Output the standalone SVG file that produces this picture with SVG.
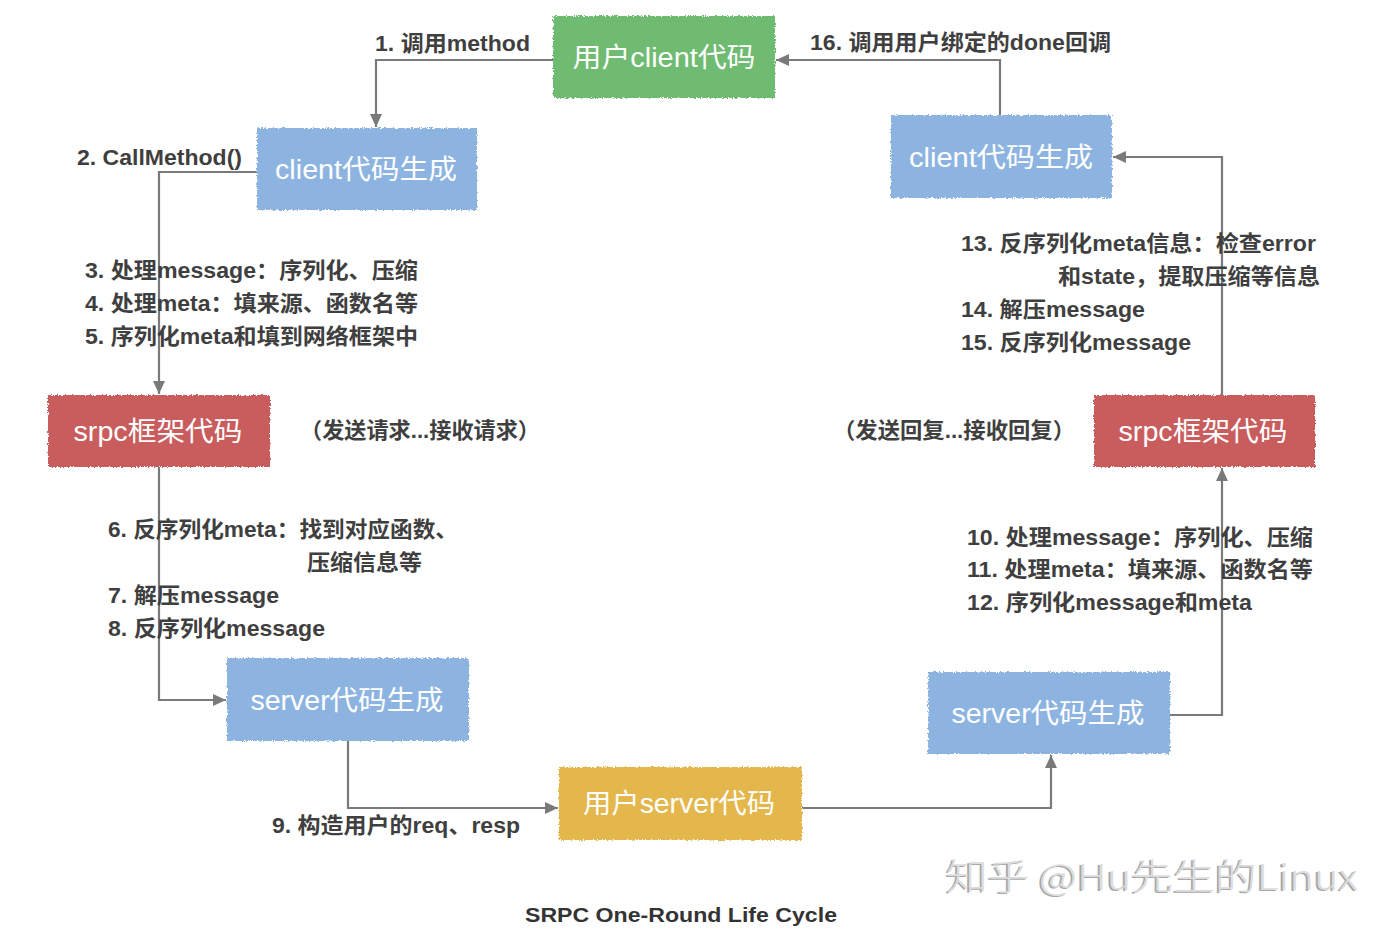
<svg xmlns="http://www.w3.org/2000/svg" width="1392" height="932" viewBox="0 0 1392 932">
<style>
.lbl{font-family:"Liberation Sans","Noto Sans CJK SC",sans-serif;font-weight:bold;font-size:22px;fill:#3f3f3f}
.nt{font-family:"Liberation Sans","Noto Sans CJK SC",sans-serif;font-size:27px;fill:#ffffff;text-anchor:middle}
.ttl{font-family:"Liberation Sans","Noto Sans CJK SC",sans-serif;font-weight:bold;font-size:20px;fill:#333}
.wm{font-family:"Noto Sans CJK SC",sans-serif;font-weight:300;font-size:36px}
.con{fill:none;stroke:#7a7a7a;stroke-width:2.2}
.green{fill:#70bb72}.blue{fill:#8db4e1}.red{fill:#c95b5d}.yellow{fill:#e3b74b}
</style>
<defs>
<marker id="arr" markerUnits="userSpaceOnUse" markerWidth="14" markerHeight="12" refX="13" refY="6" orient="auto">
<path d="M0,0 L13,6 L0,12 Z" fill="#7a7a7a"/>
</marker>
<filter id="rough" x="-5%" y="-10%" width="110%" height="120%">
<feTurbulence type="fractalNoise" baseFrequency="0.6" numOctaves="2" seed="3" result="n"/>
<feDisplacementMap in="SourceGraphic" in2="n" scale="4" xChannelSelector="R" yChannelSelector="G"/>
</filter>
</defs>
<rect width="1392" height="932" fill="#ffffff"/>

<g id="connectors">
<path class="con" d="M553,60 H376 V127" marker-end="url(#arr)"/>
<path class="con" d="M257,172 H159 V394" marker-end="url(#arr)"/>
<path class="con" d="M159,467 V700 H226" marker-end="url(#arr)"/>
<path class="con" d="M348,741 V808 H558" marker-end="url(#arr)"/>
<path class="con" d="M802,808 H1051 V755" marker-end="url(#arr)"/>
<path class="con" d="M1170,715 H1222 V468" marker-end="url(#arr)"/>
<path class="con" d="M1222,395 V157 H1113" marker-end="url(#arr)"/>
<path class="con" d="M1000,115 V60 H776" marker-end="url(#arr)"/>
</g>

<g id="user-client">
<rect class="green" x="553" y="16" width="222" height="82" filter="url(#rough)"/>
<text class="nt" x="664" y="67" textLength="183" lengthAdjust="spacingAndGlyphs">用户client代码</text>
</g>
<g id="client-gen-left">
<rect class="blue" x="257" y="128" width="220" height="82" filter="url(#rough)"/>
<text class="nt" x="366" y="179" textLength="182" lengthAdjust="spacingAndGlyphs">client代码生成</text>
</g>
<g id="client-gen-right">
<rect class="blue" x="891" y="115" width="221" height="83" filter="url(#rough)"/>
<text class="nt" x="1001" y="167" textLength="184" lengthAdjust="spacingAndGlyphs">client代码生成</text>
</g>
<g id="srpc-left">
<rect class="red" x="48" y="395" width="222" height="72" filter="url(#rough)"/>
<text class="nt" x="158" y="441" textLength="169" lengthAdjust="spacingAndGlyphs">srpc框架代码</text>
</g>
<g id="srpc-right">
<rect class="red" x="1094" y="395" width="221" height="72" filter="url(#rough)"/>
<text class="nt" x="1203" y="441" textLength="169" lengthAdjust="spacingAndGlyphs">srpc框架代码</text>
</g>
<g id="server-gen-left">
<rect class="blue" x="227" y="658" width="242" height="83" filter="url(#rough)"/>
<text class="nt" x="347" y="710" textLength="193" lengthAdjust="spacingAndGlyphs">server代码生成</text>
</g>
<g id="server-gen-right">
<rect class="blue" x="928" y="672" width="242" height="82" filter="url(#rough)"/>
<text class="nt" x="1048" y="723" textLength="193" lengthAdjust="spacingAndGlyphs">server代码生成</text>
</g>
<g id="user-server">
<rect class="yellow" x="559" y="767" width="243" height="73" filter="url(#rough)"/>
<text class="nt" x="679" y="813" textLength="192" lengthAdjust="spacingAndGlyphs">用户server代码</text>
</g>

<g id="labels">
<text class="lbl" x="375" y="51" textLength="155" lengthAdjust="spacingAndGlyphs">1. 调用method</text>
<text class="lbl" x="810" y="50" textLength="301" lengthAdjust="spacingAndGlyphs">16. 调用用户绑定的done回调</text>
<text class="lbl" x="77" y="165" textLength="165" lengthAdjust="spacingAndGlyphs">2. CallMethod()</text>
<text class="lbl" x="85" y="278" textLength="333" lengthAdjust="spacingAndGlyphs">3. 处理message：序列化、压缩</text>
<text class="lbl" x="85" y="311" textLength="333" lengthAdjust="spacingAndGlyphs">4. 处理meta：填来源、函数名等</text>
<text class="lbl" x="85" y="344" textLength="333" lengthAdjust="spacingAndGlyphs">5. 序列化meta和填到网络框架中</text>
<text class="lbl" x="300" y="438" textLength="240" lengthAdjust="spacingAndGlyphs">（发送请求...接收请求）</text>
<text class="lbl" x="833" y="438" textLength="242" lengthAdjust="spacingAndGlyphs">（发送回复...接收回复）</text>
<text class="lbl" x="961" y="251" textLength="355" lengthAdjust="spacingAndGlyphs">13. 反序列化meta信息：检查error</text>
<text class="lbl" x="1058" y="284" textLength="262" lengthAdjust="spacingAndGlyphs">和state，提取压缩等信息</text>
<text class="lbl" x="961" y="317" textLength="184" lengthAdjust="spacingAndGlyphs">14. 解压message</text>
<text class="lbl" x="961" y="350" textLength="230" lengthAdjust="spacingAndGlyphs">15. 反序列化message</text>
<text class="lbl" x="108" y="537" textLength="350" lengthAdjust="spacingAndGlyphs">6. 反序列化meta：找到对应函数、</text>
<text class="lbl" x="307" y="570" textLength="115" lengthAdjust="spacingAndGlyphs">压缩信息等</text>
<text class="lbl" x="108" y="603" textLength="171" lengthAdjust="spacingAndGlyphs">7. 解压message</text>
<text class="lbl" x="108" y="636" textLength="217" lengthAdjust="spacingAndGlyphs">8. 反序列化message</text>
<text class="lbl" x="967" y="545" textLength="346" lengthAdjust="spacingAndGlyphs">10. 处理message：序列化、压缩</text>
<text class="lbl" x="967" y="577" textLength="346" lengthAdjust="spacingAndGlyphs">11. 处理meta：填来源、函数名等</text>
<text class="lbl" x="967" y="610" textLength="285" lengthAdjust="spacingAndGlyphs">12. 序列化message和meta</text>
<text class="lbl" x="272" y="833" textLength="248" lengthAdjust="spacingAndGlyphs">9. 构造用户的req、resp</text>
</g>

<g id="watermark">
<text class="wm" x="944" y="891" fill="#a8a8a8" textLength="412" lengthAdjust="spacingAndGlyphs">知乎 @Hu先生的Linux</text>
<text class="wm" x="946" y="890" fill="#dcdcdc" textLength="412" lengthAdjust="spacingAndGlyphs">知乎 @Hu先生的Linux</text>
</g>
<text class="ttl" x="525" y="922" textLength="312" lengthAdjust="spacingAndGlyphs">SRPC One-Round Life Cycle</text>
</svg>
